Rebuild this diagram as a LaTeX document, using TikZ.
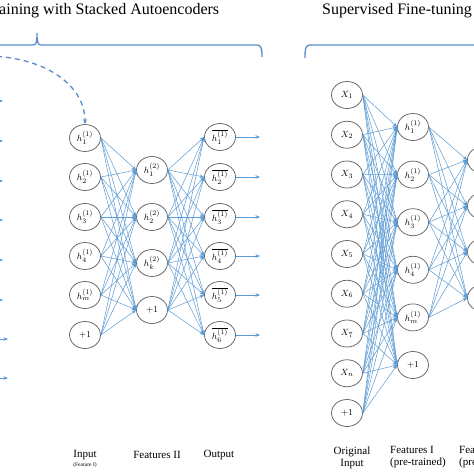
\documentclass[tikz,border=0pt]{standalone}
\usepackage{fontspec}
\setmainfont{Liberation Serif}
\usetikzlibrary{shapes.geometric,arrows.meta}
\definecolor{lnblue}{HTML}{5B9BD5}
\definecolor{brblue}{HTML}{5A8CCB}
\definecolor{ndgray}{HTML}{666666}
\tikzset{
  nd/.style={ellipse, draw=ndgray, line width=0.75pt, fill=white, minimum width=31pt, minimum height=27pt, inner sep=0pt, font=\fontsize{9.5}{10}\selectfont},
  cn/.style={draw=lnblue, line width=0.5pt, -{Stealth[length=4.5pt,width=3.5pt]}},
  brc/.style={draw=brblue, line width=1.3pt},
  dsh/.style={draw=brblue, line width=1.3pt, dash pattern=on 5pt off 4pt, -{Stealth[length=5pt,width=4pt]}},
  ttl/.style={font=\fontsize{16}{18}\selectfont, inner sep=0pt},
  lbl/.style={font=\fontsize{11}{12}\selectfont, inner sep=0pt, align=center},
  lbll/.style={font=\fontsize{11}{12}\selectfont, inner sep=0pt, align=left},
}
\begin{document}
\begin{tikzpicture}[x=1pt,y=-1pt]
\useasboundingbox (0,0) rectangle (474,474);
\fill[white] (0,0) rectangle (474,474);
\clip (0,0) rectangle (474,474);

% titles
\node[ttl, anchor=base west] (t1) at (-1,14) {aining with Stacked Autoencoders};
\node[ttl, anchor=base west] (t2) at (322,14) {Supervised Fine-tuning};

% braces
\draw[brc] (-5,45) -- (33,45) .. controls (36,45) and (37,43) .. (37,33)
  .. controls (37,43) and (38,45) .. (41,45) -- (257,45)
  .. controls (261,45) and (262,48) .. (262,57);
\draw[brc] (305,58) .. controls (305,48) and (306,45) .. (310,45) -- (480,45);

% ---------------- left panel ----------------
\node[nd] (i1) at (85,138) {$h_1^{(1)}$};
\node[nd] (i2) at (85,177) {$h_2^{(1)}$};
\node[nd] (i3) at (85,217) {$h_3^{(1)}$};
\node[nd] (i4) at (85,256) {$h_4^{(1)}$};
\node[nd] (i5) at (85,295) {$h_m^{(1)}$};
\node[nd] (i6) at (85,335) {$+1$};

\node[nd] (f1) at (152,170) {$h_1^{(2)}$};
\node[nd] (f2) at (152,217) {$h_2^{(2)}$};
\node[nd] (f3) at (152,263) {$h_k^{(2)}$};
\node[nd] (f4) at (152,310) {$+1$};

\node[nd] (o1) at (220,137) {$\overline{h_1^{(1)}}$};
\node[nd] (o2) at (220,177) {$\overline{h_2^{(1)}}$};
\node[nd] (o3) at (220,217) {$\overline{h_3^{(1)}}$};
\node[nd] (o4) at (220,256) {$\overline{h_4^{(1)}}$};
\node[nd] (o5) at (220,295) {$\overline{h_5^{(1)}}$};
\node[nd] (o6) at (220,335) {$\overline{h_6^{(1)}}$};

\foreach \a in {1,...,6}{\foreach \b in {1,...,4}{\draw[cn] (i\a.east) -- (f\b.west);}}
\foreach \a in {1,...,4}{\foreach \b in {1,...,6}{\draw[cn] (f\a.east) -- (o\b.west);}}

\foreach \b/\y in {1/137,2/177,3/217,4/256,5/295,6/335}{
  \coordinate (oe\b) at (260,\y);
  \draw[cn] (o\b.east) -- (oe\b);}

% clipped arrows at left edge
\foreach \k/\y/\e in {1/101/3,2/141/3,3/181/3,4/220/3,5/260/3,6/300/3,7/339/8,8/378/8}{
  \coordinate (ls\k) at (-20,\y);
  \coordinate (le\k) at (\e,\y);
  \draw[cn] (ls\k) -- (le\k);}

% dashed curve
\coordinate (ds) at (-12,56);
\draw[dsh] (ds) .. controls (45,57) and (85,85) .. (i1.north);

% labels
\node[lbl] (lin) at (85,455) {Input};
\node[inner sep=0pt, font=\fontsize{5.5}{6}\selectfont] (lfe) at (85,465) {(Feature I)};
\node[lbl] (lf2) at (157,455) {Features II};
\node[lbl] (lout) at (219,455) {Output};

% ---------------- right panel ----------------
\node[nd] (x1) at (347,95) {$X_1$};
\node[nd] (x2) at (347,134.75) {$X_2$};
\node[nd] (x3) at (347,174.5) {$X_3$};
\node[nd] (x4) at (347,214.25) {$X_4$};
\node[nd] (x5) at (347,254) {$X_5$};
\node[nd] (x6) at (347,293.75) {$X_6$};
\node[nd] (x7) at (347,333.5) {$X_7$};
\node[nd] (x8) at (347,373.25) {$X_n$};
\node[nd] (x9) at (347,413) {$+1$};

\node[nd] (g1) at (413,127) {$h_1^{(1)}$};
\node[nd] (g2) at (413,174.6) {$h_2^{(1)}$};
\node[nd] (g3) at (413,222.2) {$h_3^{(1)}$};
\node[nd] (g4) at (413,269.8) {$h_4^{(1)}$};
\node[nd] (g5) at (413,317.4) {$h_m^{(1)}$};
\node[nd] (g6) at (413,365) {$+1$};

\node[nd] (r1) at (483,160) {};
\node[nd] (r2) at (483,206) {};
\node[nd] (r3) at (483,252) {};
\node[nd] (r4) at (483,298) {};

\foreach \a in {1,...,9}{\foreach \b in {1,...,6}{\draw[cn] (x\a.east) -- (g\b.west);}}
\foreach \a in {1,...,5}{\foreach \b in {1,...,4}{\draw[cn] (g\a.east) -- (r\b.west);}}

\node[lbl] (rorig) at (352,458) {Original\\Input};
\node[lbll, anchor=north west] (rf1) at (390,446) {Features I\\(pre-trained)};
\node[lbll, anchor=north west] (rf2) at (459,446) {Features II\\(pre-trained)};
\end{tikzpicture}
\end{document}
